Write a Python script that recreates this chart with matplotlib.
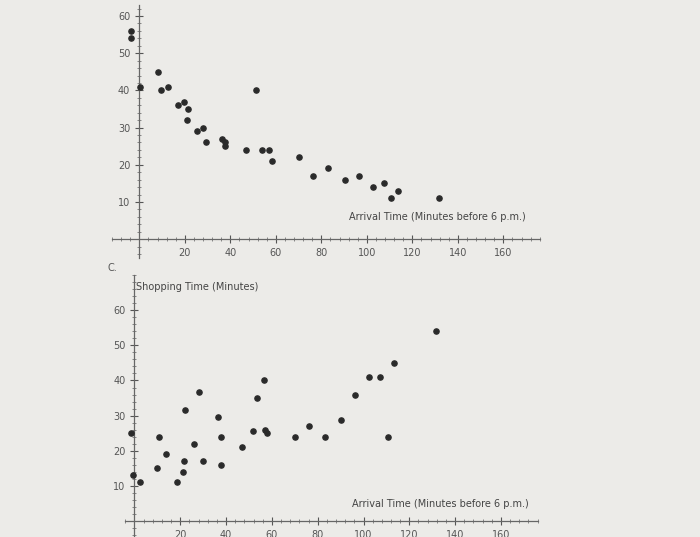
import matplotlib
matplotlib.use("Agg")
import matplotlib.pyplot as plt
from matplotlib.ticker import MultipleLocator

top_x = [-3.5, -3.5, 0.5, 8, 9.5, 12.4, 16.8, 19.7, 21.6, 20.9, 25.3, 28.2, 29.3, 36.4, 37.5, 37.7,
         46.9, 51.1, 53.9, 57.1, 58.2, 70.4, 76.4, 83, 90.4, 96.4, 102.6, 107.4, 110.7, 113.6, 131.7]
top_y = [56, 54, 41, 45, 40, 41, 36, 37, 35, 32, 29, 30, 26, 27, 26, 25,
         24, 40, 24, 24, 21, 22, 17, 19, 16, 17, 14, 15, 11, 13, 11]

bot_x = [-1.5, -0.8, 2.6, 10, 10.5, 13.9, 18.4, 21, 21.8, 22.1, 25.8, 28, 29.8, 36.4, 37.6, 37.9,
         47, 51.8, 53.5, 56.6, 56.8, 58, 70, 76, 83, 90, 96.2, 102.4, 107.2, 110.7, 113.4, 131.8]
bot_y = [25, 13, 11, 15, 24, 19, 11, 14, 17, 31.5, 22, 36.7, 17, 29.6, 24, 16,
         21, 25.7, 35, 40, 26, 25, 24, 27, 24, 28.7, 36, 41, 41, 24, 45, 54]

xticks = [20, 40, 60, 80, 100, 120, 140, 160]
yticks = [10, 20, 30, 40, 50, 60]
xlabel = "Arrival Time (Minutes before 6 p.m.)"
ylabel = "Shopping Time (Minutes)"

fig = plt.figure(figsize=(7, 5.37), dpi=100)
fig.patch.set_facecolor("#ecebe8")

def style(ax):
    ax.set_facecolor("#ecebe8")
    for s in ["top", "right"]:
        ax.spines[s].set_visible(False)
    ax.spines["left"].set_position(("data", 0))
    ax.spines["bottom"].set_position(("data", 0))
    for s in ["left", "bottom"]:
        ax.spines[s].set_color("#666666")
        ax.spines[s].set_linewidth(0.9)
    ax.set_xticks(xticks)
    ax.set_yticks(yticks)
    ax.xaxis.set_minor_locator(MultipleLocator(4))
    ax.yaxis.set_minor_locator(MultipleLocator(2))
    ax.tick_params(axis="both", which="major", direction="inout", length=6, labelsize=7,
                   colors="#555555", labelcolor="#555555")
    ax.tick_params(axis="both", which="minor", direction="inout", length=3, color="#777777")

ax1 = fig.add_axes([0.16, 0.52, 0.611, 0.471])
style(ax1)
ax1.scatter(top_x, top_y, s=14, color="#2a2a2a", zorder=3)
ax1.set_xlim(-12, 176)
ax1.set_ylim(-5, 63)
ax1.text(170, 4.5, xlabel, ha="right", va="bottom", fontsize=7, color="#444444")

ax2 = fig.add_axes([0.179, 0.0, 0.589, 0.488])
style(ax2)
ax2.scatter(bot_x, bot_y, s=14, color="#2a2a2a", zorder=3)
ax2.set_xlim(-4, 176)
ax2.set_ylim(-4.5, 70)
ax2.text(172, 3.5, xlabel, ha="right", va="bottom", fontsize=7, color="#444444")
ax2.text(0.5, 68, ylabel, ha="left", va="top", fontsize=7, color="#444444")

fig.text(108/700, 1 - 268/537, "C.", fontsize=7, color="#555555", va="center")

fig.savefig("out.png", dpi=100, facecolor=fig.get_facecolor())
